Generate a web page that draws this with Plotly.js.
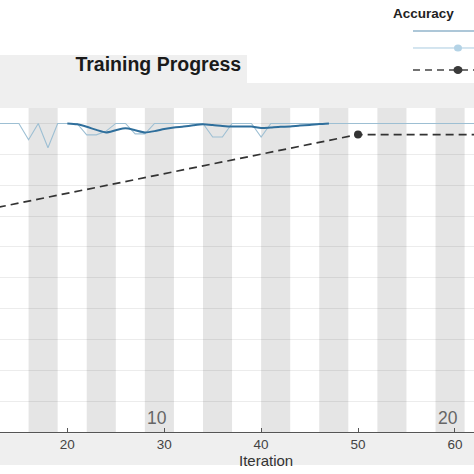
<!DOCTYPE html>
<html>
<head>
<meta charset="utf-8">
<script src="https://cdn.plot.ly/plotly-3.0.1.min.js"></script>
<style>html,body{margin:0;padding:0;background:#fff;}#chart{width:474px;height:474px;}</style>
</head>
<body>
<div id="chart"></div>
<script>
// ---- data ----
const rawIter = [13,14,15,16,17,18,19,20,21,22,23,24,25,26,27,28,29,30,31,32,33,34,35,36,37,38,39,40,41,42,43,44,45,46,47,48,49,50,51,52,53,54,55,56,57,58,59,60,61,62];
const rawAcc  = [100,100,100,94.7,100,92.1,100,100,100,96.3,96.3,97.5,100,100,96.6,96.6,100,100,100,100,100,100,95.6,95.6,100,100,100,95.6,100,100,100,100,100,100,100,100,100,100,100,100,100,100,100,100,100,100,100,100,100,100];
const smoothIter = [20,21,22,23,24,25,26,27,28,29,30,31,32,33,34,35,36,37,38,39,40,41,42,43,44,45,46,47];
const smoothAcc  = [100,99.7,98.9,97.9,97.1,97.8,98.4,97.8,97.1,97.5,98.2,98.7,99.0,99.4,99.7,99.5,99.2,99.0,99.0,99.0,98.5,98.7,98.9,99.0,99.3,99.5,99.8,100];
const valIter = [1, 50, 80];
const valAcc  = [65.3, 96.4, 96.4];
const valMarkerIter = [50];
const valMarkerAcc  = [96.4];
const epochStripeStart = [10,16,22,28,34,40,46,52,58];
const epochStripeEnd   = [13,19,25,31,37,43,49,55,61];
const epochLabelIter = [29.25, 59.25];
const epochLabels = ["10", "20"];
const xTickVals = [20,30,40,50,60];

// ---- layout helpers ----
const FONT = 'Liberation Sans, Arial, Helvetica, sans-serif';
const shapes = [];
for (let i = 0; i < epochStripeStart.length; i++) {
  shapes.push({type:'rect', xref:'x', yref:'paper', x0:epochStripeStart[i], x1:epochStripeEnd[i], y0:0, y1:1,
    fillcolor:'#e5e5e5', line:{width:0}, layer:'below'});
}
// grey panel bands
shapes.push({type:'rect', xref:'paper', yref:'paper', x0:0, x1:0.521, y0:1.0772, y1:1.1636, fillcolor:'#efefef', line:{width:0}, layer:'below'});
shapes.push({type:'rect', xref:'paper', yref:'paper', x0:0, x1:1, y0:1.0, y1:1.0772, fillcolor:'#efefef', line:{width:0}, layer:'below'});
shapes.push({type:'rect', xref:'paper', yref:'paper', x0:0, x1:1, y0:-0.1019, y1:-0.004, fillcolor:'#efefef', line:{width:0}, layer:'below'});
// legend glyphs (cropped legend)
shapes.push({type:'line', xref:'paper', yref:'paper', x0:0.8713, x1:1.0, y0:1.2377, y1:1.2377, line:{color:'#5d8fb2', width:1.2}});
shapes.push({type:'line', xref:'paper', yref:'paper', x0:0.8713, x1:1.0, y0:1.1852, y1:1.1852, line:{color:'#a9cbe0', width:1}});
shapes.push({type:'circle', xref:'paper', yref:'paper', xsizemode:'pixel', ysizemode:'pixel', xanchor:0.9662, yanchor:1.1852, x0:-4, x1:4, y0:-3.5, y1:3.5, fillcolor:'#b4d3e6', line:{width:0}});
shapes.push({type:'line', xref:'paper', yref:'paper', x0:0.8713, x1:1.0, y0:1.1173, y1:1.1173, line:{color:'#444', width:1.6, dash:'7px,5px'}});
shapes.push({type:'circle', xref:'paper', yref:'paper', xsizemode:'pixel', ysizemode:'pixel', xanchor:0.9662, yanchor:1.1173, x0:-4.5, x1:4.5, y0:-4, y1:4, fillcolor:'#3a3a3a', line:{width:0}});

const annotations = [];
for (let i = 0; i < epochLabels.length; i++) {
  annotations.push({text:epochLabels[i], x:epochLabelIter[i], xref:'x', y:0.0432, yref:'paper', showarrow:false,
    xanchor:'center', yanchor:'middle', font:{family:FONT, size:17.5, color:'#666'}});
}
annotations.push({text:'Iteration', x:0.561, xref:'paper', y:-0.0895, yref:'paper', showarrow:false,
  xanchor:'center', yanchor:'middle', font:{family:FONT, size:15, color:'#333'}});
annotations.push({text:'<b>Accuracy</b>', x:0.8945, xref:'paper', y:1.2932, yref:'paper', showarrow:false,
  xanchor:'center', yanchor:'middle', font:{family:FONT, size:13.5, color:'#222'}});

const traces = [
  {x:rawIter, y:rawAcc, type:'scatter', mode:'lines', name:'Training', line:{color:'#9dbfd3', width:1.1}, hoverinfo:'skip'},
  {x:smoothIter, y:smoothAcc, type:'scatter', mode:'lines', name:'Training (smoothed)', line:{color:'#2f6f9c', width:2, shape:'spline', smoothing:0.6}, hoverinfo:'skip'},
  {x:valIter, y:valAcc, type:'scatter', mode:'lines', name:'Validation', line:{color:'#333', width:1.7, dash:'8px,5px'}, hoverinfo:'skip'},
  {x:valMarkerIter, y:valMarkerAcc, type:'scatter', mode:'markers', name:'Validation point', marker:{color:'#333', size:8}, hoverinfo:'skip'}
];

const layout = {
  width:474, height:474,
  margin:{l:0, r:0, t:108, b:42, pad:0},
  paper_bgcolor:'#ffffff', plot_bgcolor:'#ffffff',
  showlegend:false,
  title:{text:'<b>Training Progress</b>', x:0.334, xref:'paper', y:0.865, yref:'container', xanchor:'center', yanchor:'middle',
    font:{family:FONT, size:19.5, color:'#1a1a1a'}},
  xaxis:{range:[13.05, 61.97], tickvals:xTickVals, ticks:'inside', ticklen:4, tickcolor:'#555', tickwidth:1,
    showline:true, linecolor:'#555', linewidth:1.2, showgrid:false, zeroline:false, ticklabelstandoff:0,
    tickfont:{family:FONT, size:13.5, color:'#444'}},
  yaxis:{range:[0,105], dtick:10, showticklabels:false, ticks:'', showgrid:true, gridcolor:'rgba(0,0,0,0.075)', gridwidth:1,
    zeroline:false, showline:false},
  shapes:shapes,
  annotations:annotations
};

Plotly.newPlot('chart', traces, layout, {staticPlot:true, displayModeBar:false});
</script>
</body>
</html>
